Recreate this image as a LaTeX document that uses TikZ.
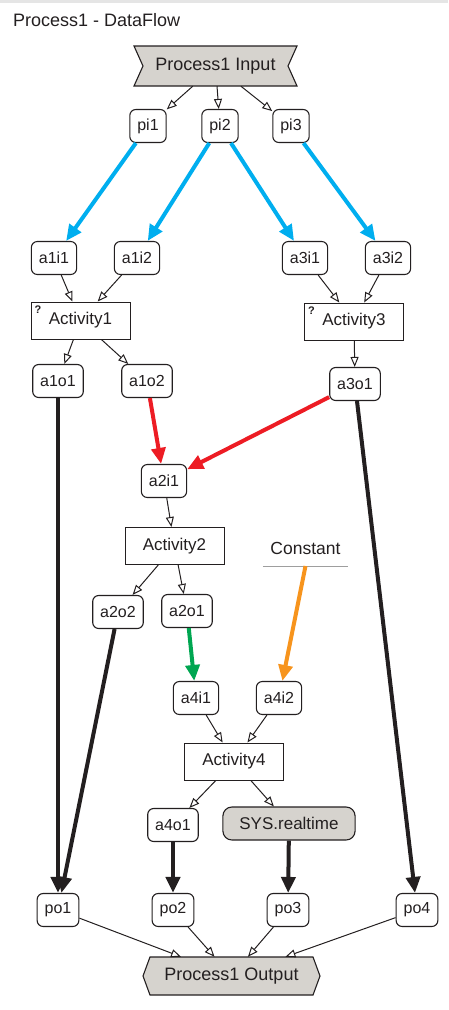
\documentclass[tikz,border=0pt]{standalone}
\usepackage{fontspec}
\setmainfont{Liberation Sans}
\usetikzlibrary{arrows.meta}
\newcommand{\myfs}[1]{\fontsize{#1pt}{#1pt}\selectfont}
\definecolor{flowblue}{RGB}{0,174,239}
\definecolor{flowred}{RGB}{237,28,36}
\definecolor{flowgreen}{RGB}{0,166,81}
\definecolor{floworange}{RGB}{247,148,29}
\definecolor{boxgray}{RGB}{214,211,206}
\definecolor{txt}{RGB}{35,31,32}
\begin{document}
\begin{tikzpicture}[x=1pt,y=-1pt,
  every node/.style={text=txt},
  port/.style={draw=txt, line width=1.1pt, rounded corners=6pt, fill=white,
    font=\myfs{16}, inner xsep=7.5pt, inner ysep=0pt, minimum height=33pt},
  act/.style={draw=txt, line width=1pt, fill=white, font=\myfs{17},
    minimum width=99pt, minimum height=37pt, inner sep=0pt},
  qmark/.style={anchor=north west, inner sep=0pt, font=\bfseries\myfs{11}},
  thinarrow/.style={draw=txt, line width=1pt,
    -{Triangle[open, length=10pt, width=8pt]}},
  thickarrow/.style={line width=4pt, -{Triangle[length=16pt, width=14pt]}},
  banner/.style={draw=txt, line width=1.1pt, fill=boxgray}
]
\useasboundingbox (0,0) rectangle (448,1010);
\fill[black!10] (0,0) rectangle (448,3);

% title
\node[anchor=base west, inner sep=0pt, font=\myfs{18}] (title) at (13,26) {Process1 - DataFlow};

% input banner
\draw[banner] (134,46) -- (297,46) -- (288,66) -- (297,86) -- (134,86) -- (143,66) -- cycle;
\node[minimum width=163pt, minimum height=40pt, inner sep=0pt, font=\myfs{18}] (in) at (215.5,66) {Process1 Input};

% output banner
\draw[banner] (150,957) -- (313,957) -- (320,976) -- (313,995) -- (150,995) -- (143,976) -- cycle;
\node[minimum width=177pt, minimum height=38pt, inner sep=0pt, font=\myfs{18}] (out) at (231.5,976) {Process1 Output};

% ports
\node[port] (pi1) at (148,126) {pi1};
\node[port] (pi2) at (220,126) {pi2};
\node[port] (pi3) at (291,126) {pi3};
\node[port] (a1i1) at (54,258) {a1i1};
\node[port] (a1i2) at (137,258) {a1i2};
\node[port] (a3i1) at (305,258) {a3i1};
\node[port] (a3i2) at (388,258) {a3i2};
\node[act] (act1) at (80.5,320.5) {Activity1};
\node[qmark] (q1) at ([xshift=4pt,yshift=-4pt]act1.north west) {?};
\node[act] (act3) at (354,321.5) {Activity3};
\node[qmark] (q3) at ([xshift=4pt,yshift=-4pt]act3.north west) {?};
\node[port] (a1o1) at (58,381) {a1o1};
\node[port] (a1o2) at (147,381) {a1o2};
\node[port] (a3o1) at (355,384) {a3o1};
\node[port] (a2i1) at (164,481) {a2i1};
\node[act] (act2) at (174.5,546) {Activity2};
\node[anchor=south, minimum width=85pt, inner xsep=0pt, inner ysep=11pt, text depth=0pt, font=\myfs{17.5}] (const) at (305.5,566) {Constant};
\draw[black!38, line width=1pt] (const.south west) -- (const.south east);
\node[port] (a2o2) at (118,612) {a2o2};
\node[port] (a2o1) at (187,611) {a2o1};
\node[port] (a4i1) at (196,698) {a4i1};
\node[port] (a4i2) at (279,698) {a4i2};
\node[act] (act4) at (234,761.5) {Activity4};
\node[port] (a4o1) at (173,825) {a4o1};
\node[port, fill=boxgray, rounded corners=9pt, inner xsep=16.5pt, font=\myfs{17}] (sys) at (289,823.5) {SYS.realtime};
\node[port] (po1) at (58,910) {po1};
\node[port] (po2) at (173,910) {po2};
\node[port] (po3) at (288,910) {po3};
\node[port] (po4) at (417,910) {po4};

% thin connectors
\draw[thinarrow] (in) -- (pi1);
\draw[thinarrow] (in) -- (pi2);
\draw[thinarrow] (in) -- (pi3);
\draw[thinarrow] (a1i1) -- (act1);
\draw[thinarrow] (a1i2) -- (act1);
\draw[thinarrow] (a3i1) -- (act3);
\draw[thinarrow] (a3i2) -- (act3);
\draw[thinarrow] (act1) -- (a1o1);
\draw[thinarrow] (act1) -- (a1o2);
\draw[thinarrow] (act3) -- (a3o1);
\draw[thinarrow] (a2i1) -- (act2);
\draw[thinarrow] (act2) -- (a2o2);
\draw[thinarrow] (act2) -- (a2o1);
\draw[thinarrow] (a4i1) -- (act4);
\draw[thinarrow] (a4i2) -- (act4);
\draw[thinarrow] (act4) -- (a4o1);
\draw[thinarrow] (act4) -- (sys);
\draw[thinarrow] (po1) -- (out);
\draw[thinarrow] (po2) -- (out);
\draw[thinarrow] (po3) -- (out);
\draw[thinarrow] (po4) -- (out);

% thick connectors
\draw[thickarrow, flowblue] (pi1) -- (a1i1);
\draw[thickarrow, flowblue] (pi2) -- (a1i2);
\draw[thickarrow, flowblue] (pi2) -- (a3i1);
\draw[thickarrow, flowblue] (pi3) -- (a3i2);
\draw[thickarrow, flowred] (a1o2) -- (a2i1);
\draw[thickarrow, flowred] (a3o1) -- (a2i1);
\draw[thickarrow, flowgreen] (a2o1) -- (a4i1);
\draw[thickarrow, floworange] (const.south) -- (a4i2);
\draw[thickarrow, txt] (a1o1) -- (po1);
\draw[thickarrow, txt] (a2o2) -- (po1);
\draw[thickarrow, txt] (a3o1) -- (po4);
\draw[thickarrow, txt] (a4o1) -- (po2);
\draw[thickarrow, txt] (sys) -- (po3);
\end{tikzpicture}
\end{document}
